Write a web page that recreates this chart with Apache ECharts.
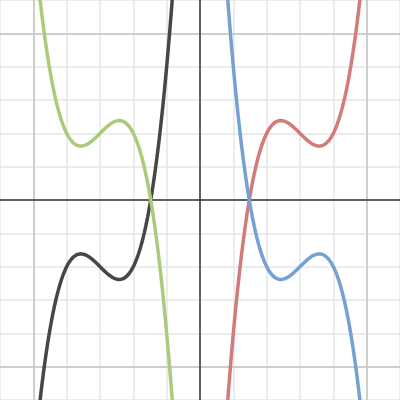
<!DOCTYPE html>
<html><head><meta charset="utf-8">
<script src="https://cdn.jsdelivr.net/npm/echarts@6/dist/echarts.min.js"></script>
<style>html,body{margin:0;padding:0;background:#fff}#main{width:400px;height:400px}</style>
</head><body><div id="main"></div>
<script>
// each curve: y = sign*((x-cx)^3 - (x-cx)) + cy
var names = ['red', 'blue', 'black', 'green'];
var colors = ['#d27b7b', '#76a0d3', '#464646', '#abcb7c'];
var centerX = [3, 3, -3, -3];
var centerY = [2, -2, -2, 2];
var signs = [1, -1, 1, -1];
var majorLines = [-5, 5];

function curve(i) {
	var pts = [];
	for (var k = -650; k <= 650; k++) {
		var x = k / 100, t = x - centerX[i];
		pts.push([x, signs[i] * (t * t * t - t) + centerY[i]]);
	}
	return pts;
}

var myChart = echarts.init(document.getElementById('main'));
var series = names.map(function (n, i) {
	return {
		name: n, type: 'line', showSymbol: false, clip: true, z: 5,
		lineStyle: { color: colors[i], width: 3.5 },
		data: curve(i)
	};
});
var ml = [];
majorLines.forEach(function (v) {
	ml.push({ xAxis: v, lineStyle: { color: '#c4c4c4', width: 1.5, type: 'solid' } });
	ml.push({ yAxis: v, lineStyle: { color: '#c4c4c4', width: 1.5, type: 'solid' } });
});
ml.push({ xAxis: 0, lineStyle: { color: '#333', width: 1.5, type: 'solid' } });
ml.push({ yAxis: 0, lineStyle: { color: '#333', width: 1.5, type: 'solid' } });
series.push({
	type: 'line', data: [], z: 2,
	markLine: { silent: true, symbol: 'none', label: { show: false }, animation: false, data: ml }
});

option = {
	animation: false,
	grid: { left: -2, right: -2, top: -2, bottom: -2 },
	xAxis: {
		type: 'value', min: -6, max: 6, interval: 1,
		axisLine: { show: false }, axisTick: { show: false }, axisLabel: { show: false },
		splitLine: { lineStyle: { color: '#e6e6e6', width: 1.5 } }
	},
	yAxis: {
		type: 'value', min: -6, max: 6, interval: 1,
		axisLine: { show: false }, axisTick: { show: false }, axisLabel: { show: false },
		splitLine: { lineStyle: { color: '#e6e6e6', width: 1.5 } }
	},
	series: series
};
myChart.setOption(option);
</script></body></html>
